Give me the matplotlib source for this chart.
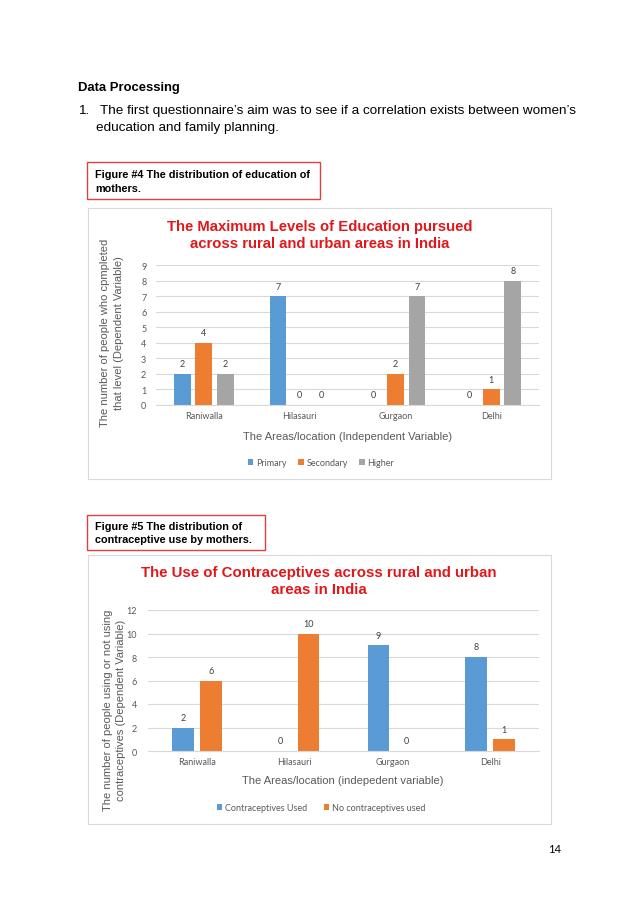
import matplotlib.pyplot as plt
import numpy as np
from matplotlib.patches import Rectangle

# ---------------------------------------------------------------------------
# Data
# ---------------------------------------------------------------------------
areas = ["Raniwalla", "Hilasauri", "Gurgaon", "Delhi"]

edu_labels = ["Primary", "Secondary", "Higher"]
edu_primary = [2, 7, 0, 0]
edu_secondary = [4, 0, 2, 1]
edu_higher = [2, 0, 7, 8]

con_labels = ["Contraceptives Used", "No contraceptives used"]
con_used = [2, 0, 9, 8]
con_not_used = [6, 10, 0, 1]

# ---------------------------------------------------------------------------
# Style
# ---------------------------------------------------------------------------
BLUE = "#5B9BD5"
ORANGE = "#ED7D31"
GRAY = "#A5A5A5"
RED = "#E0181B"
GRID = "#D9D9D9"
TICK = "#595959"

ARIAL = "Liberation Sans"
CALIBRI = "Lato"

W, H = 638, 903


def fx(x):
    return x / W


def fy(y):
    return 1 - y / H


def px_axes(fig, left, top, right, bottom):
    return fig.add_axes([fx(left), fy(bottom), (right - left) / W, (bottom - top) / H])


def style_axes(ax, ymax, step, ypad):
    ax.set_xlim(-0.5, 3.5)
    ax.set_ylim(0, ymax)
    ax.set_yticks(np.arange(0, ymax + 0.1, step))
    ax.grid(axis="y", color=GRID, lw=0.8)
    ax.set_axisbelow(True)
    for s in ("top", "right", "left"):
        ax.spines[s].set_visible(False)
    ax.spines["bottom"].set_color(GRID)
    ax.spines["bottom"].set_linewidth(0.8)
    ax.tick_params(length=0, labelsize=6.5, labelcolor=TICK)
    ax.tick_params(axis="x", pad=4)
    ax.tick_params(axis="y", pad=ypad)
    ax.set_xticks(range(len(areas)))
    ax.set_xticklabels(areas, fontfamily=CALIBRI)
    for t in ax.get_yticklabels():
        t.set_fontfamily(CALIBRI)
    ax.set_facecolor("none")


fig = plt.figure(figsize=(W / 100, H / 100), dpi=100)
fig.patch.set_facecolor("white")

# ---------------------------------------------------------------------------
# Page text
# ---------------------------------------------------------------------------
fig.text(fx(78), fy(88), "Data Processing", fontsize=9.4, fontweight="bold",
         fontfamily=ARIAL, va="center")
fig.text(fx(78), fy(111), "1.", fontsize=9.7, fontfamily=ARIAL, va="center")
fig.text(fx(100), fy(111),
         "The first questionnaire\u2019s aim was to see if a correlation exists between women\u2019s",
         fontsize=9.7, fontfamily=ARIAL, va="center")
fig.text(fx(96), fy(128), "education and family planning.", fontsize=9.7,
         fontfamily=ARIAL, va="center")
fig.text(fx(555), fy(850), "14", fontsize=8, fontfamily=CALIBRI,
         ha="center", va="center")

# caption boxes
fig.patches.append(Rectangle((fx(87), fy(200)), 233 / W, 37 / H,
                             transform=fig.transFigure, fill=False,
                             edgecolor="#E04040", lw=1))
fig.text(fx(95), fy(175), "Figure #4 The distribution of education of", fontsize=7.8,
         fontweight="bold", fontfamily=ARIAL, va="center")
fig.text(fx(95), fy(189), "mothers.", fontsize=7.8,
         fontweight="bold", fontfamily=ARIAL, va="center")

fig.patches.append(Rectangle((fx(87), fy(551)), 178 / W, 35 / H,
                             transform=fig.transFigure, fill=False,
                             edgecolor="#E04040", lw=1))
fig.text(fx(95), fy(527), "Figure #5 The distribution of", fontsize=7.8,
         fontweight="bold", fontfamily=ARIAL, va="center")
fig.text(fx(95), fy(540), "contraceptive use by mothers.", fontsize=7.8,
         fontweight="bold", fontfamily=ARIAL, va="center")

# chart frames
fig.patches.append(Rectangle((fx(88), fy(480)), 463 / W, 271 / H,
                             transform=fig.transFigure, fill=False,
                             edgecolor=GRID, lw=0.8))
fig.patches.append(Rectangle((fx(88), fy(825)), 463 / W, 269 / H,
                             transform=fig.transFigure, fill=False,
                             edgecolor=GRID, lw=0.8))

# ---------------------------------------------------------------------------
# Chart 1: education levels
# ---------------------------------------------------------------------------
ax1 = px_axes(fig, 156, 266, 539, 406)
x = np.arange(len(areas))
bw1 = 0.175
step1 = 0.227
series1 = [(edu_primary, BLUE), (edu_secondary, ORANGE), (edu_higher, GRAY)]
handles1 = []
for i, (vals, col) in enumerate(series1):
    bars = ax1.bar(x + (i - 1) * step1, vals, width=bw1, color=col, label=edu_labels[i])
    ax1.bar_label(bars, padding=4, fontsize=6.5, color="#404040", fontfamily=CALIBRI)
    handles1.append(bars)
style_axes(ax1, 9, 1, 7)

fig.text(fx(320), fy(227), "The Maximum Levels of Education pursued", fontsize=10.7,
         fontweight="bold", color=RED, fontfamily=ARIAL, ha="center", va="center")
fig.text(fx(320), fy(244), "across rural and urban areas in India", fontsize=10.7,
         fontweight="bold", color=RED, fontfamily=ARIAL, ha="center", va="center")
fig.text(fx(348), fy(437), "The Areas/location (Independent Variable)", fontsize=8,
         color=TICK, fontfamily=ARIAL, ha="center", va="center")
fig.text(fx(105), fy(333), "The number of people who cpmpleted", fontsize=8,
         color=TICK, fontfamily=ARIAL, ha="center", va="center", rotation=90)
fig.text(fx(119), fy(333), "that level (Dependent Variable)", fontsize=8,
         color=TICK, fontfamily=ARIAL, ha="center", va="center", rotation=90)

ax1.legend(handles=handles1, loc="center", bbox_to_anchor=(fx(321), fy(464)),
           bbox_transform=fig.transFigure, ncol=3, frameon=False,
           handlelength=0.6, handleheight=0.6, handletextpad=0.3,
           columnspacing=1.3, labelcolor=TICK, prop={"family": CALIBRI, "size": 6.5})

# ---------------------------------------------------------------------------
# Chart 2: contraceptive use
# ---------------------------------------------------------------------------
ax2 = px_axes(fig, 148, 611, 539, 752)
bw2 = 0.222
step2 = 0.284
series2 = [(con_used, BLUE), (con_not_used, ORANGE)]
handles2 = []
for i, (vals, col) in enumerate(series2):
    bars = ax2.bar(x + (i - 0.5) * step2, vals, width=bw2, color=col, label=con_labels[i])
    ax2.bar_label(bars, padding=4, fontsize=6.5, color="#404040", fontfamily=CALIBRI)
    handles2.append(bars)
style_axes(ax2, 12, 2, 8)

fig.text(fx(319), fy(573), "The Use of Contraceptives across rural and urban", fontsize=10.8,
         fontweight="bold", color=RED, fontfamily=ARIAL, ha="center", va="center")
fig.text(fx(319), fy(590), "areas in India", fontsize=10.8,
         fontweight="bold", color=RED, fontfamily=ARIAL, ha="center", va="center")
fig.text(fx(343), fy(781), "The Areas/location (indepedent variable)", fontsize=8,
         color=TICK, fontfamily=ARIAL, ha="center", va="center")
fig.text(fx(108), fy(710), "The number of people using or not using", fontsize=8,
         color=TICK, fontfamily=ARIAL, ha="center", va="center", rotation=90)
fig.text(fx(121), fy(710), "contraceptives (Dependent Variable)", fontsize=8,
         color=TICK, fontfamily=ARIAL, ha="center", va="center", rotation=90)

ax2.legend(handles=handles2, loc="center", bbox_to_anchor=(fx(321), fy(809)),
           bbox_transform=fig.transFigure, ncol=2, frameon=False,
           handlelength=0.6, handleheight=0.6, handletextpad=0.3,
           columnspacing=1.8, labelcolor=TICK, prop={"family": CALIBRI, "size": 6.5})

fig.savefig("out.png", dpi=100)
